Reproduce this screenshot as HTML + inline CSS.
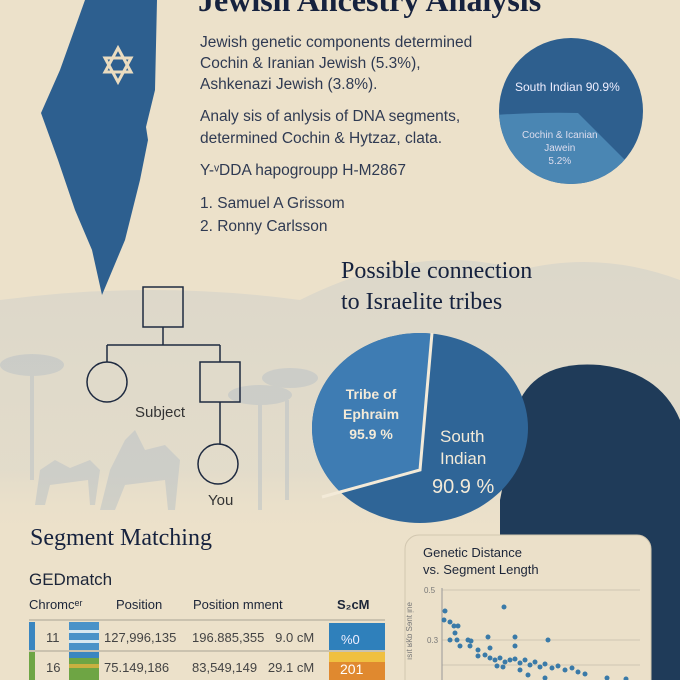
<!DOCTYPE html>
<html><head><meta charset="utf-8"><style>
body{margin:0;width:680px;height:680px;overflow:hidden;background:#ece1ca;position:relative;font-family:"Liberation Sans",sans-serif;color:#2a3550}
.a{position:absolute;white-space:nowrap}
.serif{font-family:"Liberation Serif",serif;color:#16223e}
</style></head><body>
<svg class="a" style="left:0;top:0" width="680" height="680">
<defs>
<linearGradient id="h" x1="0" y1="0" x2="0" y2="1"><stop offset="0" stop-color="#d8d5ca" stop-opacity="0.8"/><stop offset="0.75" stop-color="#dcd8cb" stop-opacity="0.6"/><stop offset="1" stop-color="#ece1ca" stop-opacity="0"/></linearGradient>
<clipPath id="pc"><ellipse cx="420" cy="428" rx="108" ry="95"/></clipPath>
<clipPath id="sc"><ellipse cx="571" cy="111" rx="72" ry="73"/></clipPath>
</defs>
<path d="M0 300 Q150 280 300 300 Q420 240 520 270 Q600 250 680 280 L680 540 L0 540Z" fill="url(#h)"/>
<g fill="#bcc3c6" opacity="0.55">
<path d="M35 505 L40 470 L55 460 L70 468 L90 460 L100 470 L95 505 L90 505 L88 480 L50 485 L45 505Z"/>
<path d="M100 510 L110 470 L125 440 L135 430 L145 450 L165 445 L180 460 L175 510 L168 510 L165 480 L125 485 L115 510Z"/>
<rect x="258" y="400" width="4" height="110"/><ellipse cx="260" cy="395" rx="32" ry="10"/>
<rect x="30" y="370" width="4" height="110"/><ellipse cx="32" cy="365" rx="32" ry="11"/>
<rect x="285" y="400" width="4" height="100"/><ellipse cx="290" cy="378" rx="28" ry="10"/>
</g>
<path d="M85 0 L157 0 L155 90 L146 127 L148 140 L140 180 L125 240 L102 295 L92 250 L75 210 L58 160 L41 113 L60 70Z" fill="#2d5f8f"/>
<g fill="none" stroke="#eadcc0" stroke-width="3"><path d="M118 48 L131 72 L105 72Z"/><path d="M118 82 L131 58 L105 58Z"/></g>
<path d="M520 400 Q540 360 600 365 Q660 372 680 420 L680 680 L500 680 L500 500Z" fill="#1f3b59"/>
<ellipse cx="571" cy="111" rx="72" ry="73" fill="#2e5f8e"/>
<path d="M495 115 Q540 112 578 113 L625 160 L625 200 L495 200Z" fill="#4a86b3" clip-path="url(#sc)"/>
<ellipse cx="420" cy="428" rx="108" ry="95" fill="#2f6597"/>
<path d="M432 320 L420 470 L300 505 L300 320Z" fill="#3e7cb3" clip-path="url(#pc)"/>
<path d="M432 333 L420 470 L322 497" fill="none" stroke="#f3ead8" stroke-width="3"/>
<g stroke="#1e2a40" stroke-width="1.5" fill="none">
<rect x="143" y="287" width="40" height="40"/><path d="M163 327 V345 M107 345 H220 M107 345 V362 M220 345 V362 M220 402 V444"/>
<circle cx="107" cy="382" r="20"/><rect x="200" y="362" width="40" height="40"/><circle cx="218" cy="464" r="20"/>
</g>
<rect x="405" y="535" width="246" height="160" rx="14" fill="#ebe0c9" stroke="#d2c7b0"/>
<g stroke="#cfc6b2"><line x1="442" y1="590" x2="640" y2="590"/><line x1="442" y1="640" x2="640" y2="640"/><line x1="442" y1="665" x2="640" y2="665"/></g>
<line x1="442" y1="588" x2="442" y2="680" stroke="#999"/>
<g fill="#3a7aa8">
<circle cx="445" cy="611" r="2.5"/><circle cx="444" cy="620" r="2.5"/><circle cx="450" cy="622" r="2.5"/><circle cx="454" cy="626" r="2.5"/><circle cx="455" cy="633" r="2.5"/><circle cx="458" cy="626" r="2.5"/><circle cx="504" cy="607" r="2.5"/><circle cx="450" cy="640" r="2.5"/><circle cx="457" cy="640" r="2.5"/><circle cx="460" cy="646" r="2.5"/><circle cx="468" cy="640" r="2.5"/><circle cx="471" cy="641" r="2.5"/><circle cx="470" cy="646" r="2.5"/><circle cx="488" cy="637" r="2.5"/><circle cx="515" cy="637" r="2.5"/><circle cx="548" cy="640" r="2.5"/><circle cx="515" cy="646" r="2.5"/><circle cx="478" cy="650" r="2.5"/><circle cx="485" cy="655" r="2.5"/><circle cx="490" cy="648" r="2.5"/><circle cx="478" cy="656" r="2.5"/>
<circle cx="490" cy="658" r="2.5"/><circle cx="495" cy="660" r="2.5"/><circle cx="500" cy="658" r="2.5"/><circle cx="505" cy="662" r="2.5"/><circle cx="510" cy="660" r="2.5"/><circle cx="515" cy="659" r="2.5"/><circle cx="520" cy="663" r="2.5"/><circle cx="525" cy="660" r="2.5"/><circle cx="530" cy="665" r="2.5"/><circle cx="535" cy="662" r="2.5"/><circle cx="540" cy="667" r="2.5"/><circle cx="545" cy="664" r="2.5"/><circle cx="552" cy="668" r="2.5"/><circle cx="558" cy="666" r="2.5"/><circle cx="565" cy="670" r="2.5"/><circle cx="572" cy="668" r="2.5"/><circle cx="578" cy="672" r="2.5"/><circle cx="585" cy="674" r="2.5"/><circle cx="497" cy="666" r="2.5"/><circle cx="528" cy="675" r="2.5"/><circle cx="545" cy="678" r="2.5"/><circle cx="607" cy="678" r="2.5"/><circle cx="626" cy="679" r="2.5"/><circle cx="520" cy="670" r="2.5"/><circle cx="503" cy="667" r="2.5"/>
</g>
<g>
<rect x="29" y="622" width="6" height="28" fill="#3a86c0"/><rect x="69" y="622" width="30" height="28" fill="#4a92c8"/><rect x="69" y="630" width="30" height="3" fill="#d8e8f0"/><rect x="69" y="640" width="30" height="3" fill="#d8e8f0"/>
<rect x="29" y="652" width="6" height="28" fill="#6ea544"/><rect x="69" y="652" width="30" height="28" fill="#6ea544"/><rect x="69" y="652" width="30" height="6" fill="#3a86c0"/><rect x="69" y="664" width="30" height="4" fill="#c9b040"/>
<rect x="329" y="623" width="56" height="27" fill="#2f80bb"/><rect x="329" y="652" width="56" height="28" fill="#e0892f"/><rect x="329" y="652" width="56" height="10" fill="#f0c040"/>
<line x1="29" y1="620" x2="385" y2="620" stroke="#a8a294"/><line x1="29" y1="651" x2="385" y2="651" stroke="#a8a294"/>
</g>
</svg>
<div class="a serif" style="left:198px;top:-18px;font-size:32px;font-weight:bold">Jewish Ancestry Analysis</div>
<div class="a" style="left:200px;top:32px;font-size:15.5px;line-height:21px;color:#2f3a52">Jewish genetic components determined<br>Cochin &amp; Iranian Jewish (5.3%),<br>Ashkenazi Jewish (3.8%).</div>
<div class="a" style="left:200px;top:106px;font-size:15.5px;line-height:22px;color:#2f3a52">Analy sis of anlysis of DNA segments,<br>determined Cochin &amp; Hytzaz, clata.</div>
<div class="a" style="left:200px;top:162px;font-size:15.5px;color:#2f3a52">Y-ᵛDDA hapogroupp H-M2867</div>
<div class="a" style="left:200px;top:192px;font-size:15.5px;line-height:23px;color:#2f3a52">1. Samuel A Grissom<br>2. Ronny Carlsson</div>
<div class="a" style="left:515px;top:80px;font-size:12px;color:#eef">South Indian 90.9%</div>
<div class="a" style="left:522px;top:129px;font-size:10px;line-height:13px;color:#dde;text-align:center">Cochin &amp; Icanian<br>Jawein<br>5.2%</div>
<div class="a serif" style="left:341px;top:256px;font-size:24px;line-height:31px">Possible connection<br>to Israelite tribes</div>
<div class="a" style="left:135px;top:404px;font-size:15px;color:#333">Subject</div>
<div class="a" style="left:208px;top:492px;font-size:15px;color:#333">You</div>
<div class="a" style="left:343px;top:384px;font-size:14px;line-height:20px;color:#f3ead8;text-align:center;font-weight:bold">Tribe of<br>Ephraim<br>95.9 %</div>
<div class="a" style="left:440px;top:426px;font-size:17px;line-height:22px;color:#f3ead8">South<br>Indian</div>
<div class="a" style="left:432px;top:476px;font-size:20px;color:#f3ead8">90.9 %</div>
<div class="a serif" style="left:30px;top:525px;font-size:24px">Segment Matching</div>
<div class="a" style="left:29px;top:570px;font-size:17px;color:#1c2538">GEDmatch</div>
<div class="a" style="left:29px;top:597px;font-size:13px;color:#1c2538">Chromcᵉʳ</div>
<div class="a" style="left:116px;top:597px;font-size:13px;color:#1c2538">Position</div>
<div class="a" style="left:193px;top:597px;font-size:13px;color:#1c2538">Position mment</div>
<div class="a" style="left:337px;top:597px;font-size:13px;color:#1c2538;font-weight:bold">S₂cM</div>
<div class="a" style="left:46px;top:630px;font-size:13px;color:#444">11</div>
<div class="a" style="left:104px;top:630px;font-size:13px;color:#444">127,996,135</div>
<div class="a" style="left:192px;top:630px;font-size:13px;color:#444">196.885,355&nbsp;&nbsp; 9.0 cM</div>
<div class="a" style="left:341px;top:632px;font-size:13px;color:#eef">%0</div>
<div class="a" style="left:46px;top:660px;font-size:13px;color:#444">16</div>
<div class="a" style="left:104px;top:660px;font-size:13px;color:#444">75.149,186</div>
<div class="a" style="left:192px;top:660px;font-size:13px;color:#444">83,549,149&nbsp;&nbsp; 29.1 cM</div>
<div class="a" style="left:340px;top:661px;font-size:14px;color:#fff">201</div>
<div class="a" style="left:423px;top:544px;font-size:13px;line-height:17px;color:#1c2538">Genetic Distance<br>vs. Segment Length</div>
<div class="a" style="left:424px;top:586px;font-size:8px;color:#777">0.5</div>
<div class="a" style="left:427px;top:636px;font-size:8px;color:#777">0.3</div>
<div class="a" style="left:405px;top:660px;font-size:8px;color:#777;transform:rotate(-90deg);transform-origin:left top">ısıt ʁКɒ Sɘnt ᴉne</div>
</body></html>
